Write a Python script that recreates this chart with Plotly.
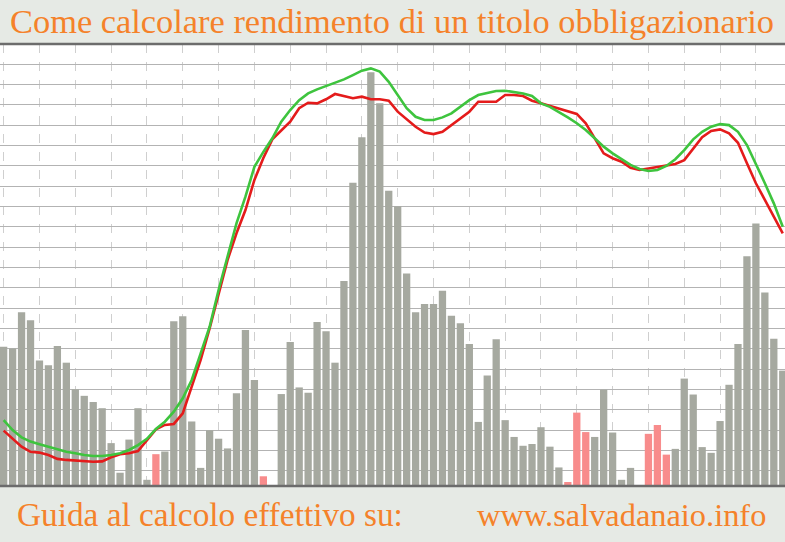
import plotly.graph_objects as go

# volumi (scala 0-100) per seduta
volumi = [31.5, 31.1, 39.3, 37.5, 28.4, 27.3, 31.7, 27.9, 21.9, 20.4,
          19.0, 17.6, 9.7, 3.0, 10.5, 17.6, 1.4, 7.2, 7.8, 37.3,
          38.4, 14.6, 4.1, 12.6, 10.7, 8.5, 21.0, 35.3, 24.0, 2.2,
          0.0, 20.8, 32.6, 22.3, 21.1, 37.1, 35.0, 27.9, 46.4, 68.6,
          78.9, 93.6, 86.6, 66.8, 63.3, 48.1, 39.3, 41.2, 41.2, 44.2,
          38.5, 36.8, 32.1, 14.5, 25.0, 33.2, 14.9, 11.1, 9.1, 9.5,
          13.3, 8.9, 4.2, 0.9, 16.6, 12.2, 11.1, 21.8, 12.1, 1.4,
          4.1, 0.0, 11.8, 13.8, 7.1, 8.4, 24.3, 20.7, 8.8, 7.5,
          14.7, 22.9, 32.1, 52.0, 59.4, 43.8, 33.3, 26.1]

# sedute in ribasso (barre rosa)
ribasso = [17, 29, 63, 64, 65, 72, 73, 74]

# prezzo del titolo
prezzo = [1.97, 1.59, 1.18, 0.93, 0.89, 0.77, 0.58, 0.53, 0.51, 0.48,
          0.44, 0.46, 0.66, 0.81, 0.86, 0.97, 1.49, 2.03, 2.25, 2.30,
          2.82, 4.13, 5.45, 7.00, 8.73, 10.36, 11.68, 12.82, 14.30, 15.38,
          16.30, 16.76, 17.17, 17.83, 18.10, 18.07, 18.27, 18.53, 18.43, 18.32,
          18.40, 18.27, 18.27, 18.20, 17.66, 17.28, 16.92, 16.63, 16.56, 16.67,
          17.00, 17.33, 17.66, 18.15, 18.15, 18.15, 18.48, 18.48, 18.43, 18.20,
          18.07, 17.94, 17.78, 17.66, 17.55, 17.09, 16.35, 15.61, 15.37, 15.20,
          14.90, 14.79, 14.87, 14.95, 15.04, 15.09, 15.28, 15.86, 16.40, 16.71,
          16.79, 16.60, 16.13, 15.12, 14.14, 13.32, 12.49, 11.68]

# media mobile
media = [2.49, 2.00, 1.64, 1.43, 1.30, 1.18, 1.05, 0.93, 0.86, 0.77,
         0.72, 0.72, 0.77, 0.86, 1.02, 1.26, 1.57, 2.05, 2.41, 2.90,
         3.56, 4.46, 5.77, 7.08, 8.89, 10.53, 12.17, 13.48, 14.95, 15.68,
         16.35, 17.17, 17.74, 18.23, 18.56, 18.76, 18.92, 19.06, 19.25, 19.46,
         19.68, 19.79, 19.63, 19.13, 18.48, 17.83, 17.41, 17.25, 17.25, 17.38,
         17.58, 17.90, 18.23, 18.48, 18.59, 18.68, 18.69, 18.64, 18.56, 18.43,
         18.07, 17.90, 17.66, 17.38, 17.09, 16.76, 16.35, 15.94, 15.61, 15.32,
         15.04, 14.84, 14.74, 14.79, 14.99, 15.32, 15.77, 16.30, 16.67, 16.92,
         17.05, 17.00, 16.67, 16.02, 15.12, 14.14, 13.15, 12.00]

sedute = list(range(len(volumi)))

titolo = "Come calcolare rendimento di un titolo obbligazionario"
guida = "Guida al calcolo effettivo su:"
sito = "www.salvadanaio.info"

ARANCIO = "#f5822a"
FONDO = "#e6eae5"
colori = ["#f88c8c" if i in ribasso else "#a6a9a0" for i in sedute]

fig = go.Figure()
fig.add_trace(go.Bar(x=sedute, y=volumi, marker=dict(color=colori, line=dict(width=0)),
                     yaxis="y", hoverinfo="skip"))
fig.add_trace(go.Scatter(x=sedute, y=prezzo, mode="lines", yaxis="y2",
                         line=dict(color="#e41b1b", width=2.6)))
fig.add_trace(go.Scatter(x=sedute, y=media, mode="lines", yaxis="y2",
                         line=dict(color="#3ec43e", width=2.6)))

fig.update_layout(
    width=785, height=542,
    margin=dict(l=0, r=0, t=44, b=56, pad=0, autoexpand=False),
    paper_bgcolor=FONDO, plot_bgcolor="white",
    showlegend=False, bargap=0.185,
    xaxis=dict(range=[-0.408, 87.25], tickmode="linear", tick0=0, dtick=4,
               showgrid=True, gridcolor="#cfcfcf", gridwidth=1, griddash="dash",
               showticklabels=False, zeroline=False, showline=False, ticks=""),
    yaxis=dict(range=[0, 100], showgrid=False, showticklabels=False,
               zeroline=False, showline=False),
    yaxis2=dict(range=[-0.753, 20.99], overlaying="y", side="right",
                tickmode="linear", tick0=0, dtick=1,
                showgrid=True, gridcolor="#b3b3b3", gridwidth=1.4,
                showticklabels=False, zeroline=False, showline=False),
    font=dict(family="Liberation Serif", color=ARANCIO),
)

fig.add_shape(type="line", xref="paper", yref="paper", x0=0, x1=1, y0=1, y1=1,
              line=dict(color="#6c6c6c", width=2.5))
fig.add_shape(type="line", xref="paper", yref="paper", x0=0, x1=1, y0=0, y1=0,
              line=dict(color="#6c6c6c", width=2.5))

fig.add_annotation(text=titolo, xref="paper", yref="paper", x=8 / 785, y=1.052,
                   xanchor="left", yanchor="middle", showarrow=False,
                   font=dict(size=34.4, family="Liberation Serif", color=ARANCIO))
fig.add_annotation(text=guida, xref="paper", yref="paper", x=14.5 / 785, y=-0.0656,
                   xanchor="left", yanchor="middle", showarrow=False,
                   font=dict(size=33.3, family="Liberation Serif", color=ARANCIO))
fig.add_annotation(text=sito, xref="paper", yref="paper", x=475 / 785, y=-0.0656,
                   xanchor="left", yanchor="middle", showarrow=False,
                   font=dict(size=32.4, family="Liberation Serif", color=ARANCIO))

# niente margine della pagina: la figura occupa tutta la finestra
fig.write_html("out.html", config={"displayModeBar": False},
               post_script="document.body.style.margin = '0';")
